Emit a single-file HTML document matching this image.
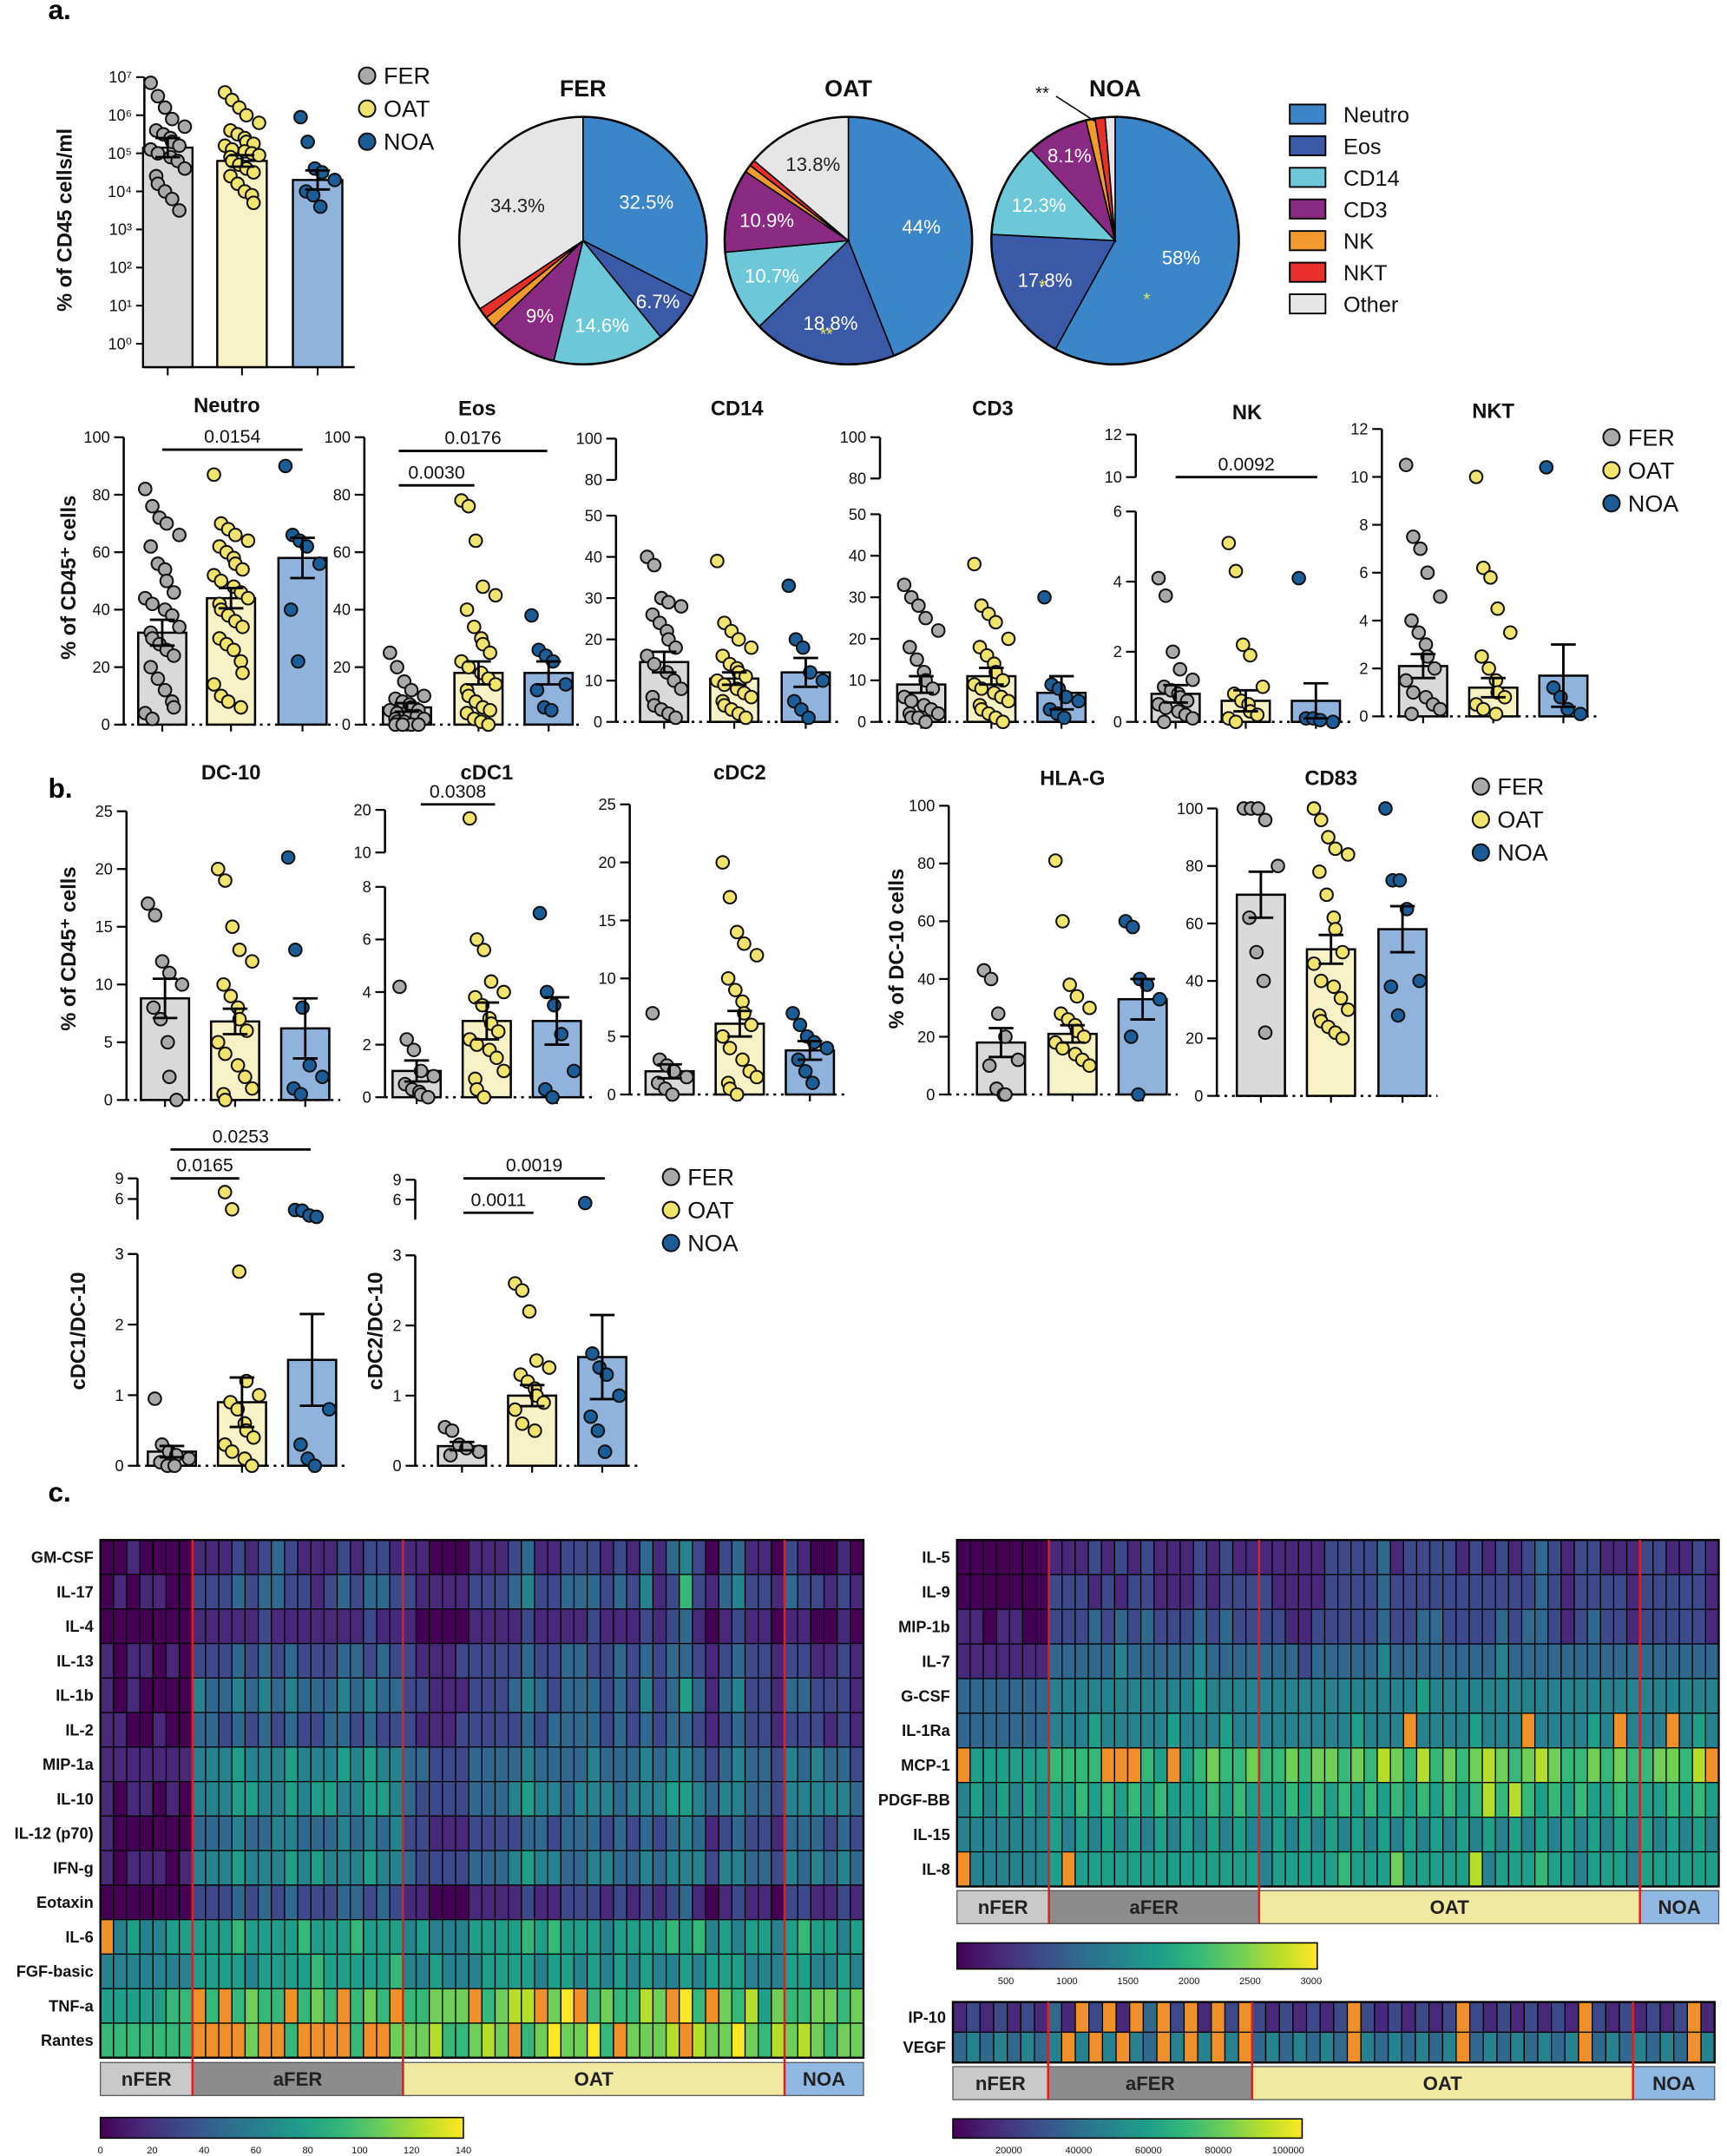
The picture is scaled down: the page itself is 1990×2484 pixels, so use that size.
<!DOCTYPE html>
<html><head><meta charset="utf-8"><style>
html,body{margin:0;padding:0;background:#fff}
svg{display:block;font-family:"Liberation Sans",Arial,sans-serif}
</style></head><body>
<svg id="fig" xmlns="http://www.w3.org/2000/svg" width="1990" height="2484" viewBox="0 0 1256 1568" preserveAspectRatio="none">
<text x="35" y="14" font-size="20" font-weight="bold">a.</text>
<text x="35" y="580" font-size="20" font-weight="bold">b.</text>
<text x="35" y="1092" font-size="20" font-weight="bold">c.</text>
</svg>
<script>
const NS='http://www.w3.org/2000/svg';
const svg=document.getElementById('fig');
function mk(tag,attrs,name,par){const el=document.createElementNS(NS,tag);for(const k in attrs)el.setAttribute(k,attrs[k]);


(par||svg).appendChild(el);return el;}
function tx(x,y,s,size,name,opt){opt=opt||{};const t=mk('text',Object.assign({x:x,y:y,'font-size':size,fill:'#111','text-anchor':'middle'},opt),name);t.textContent=s;return t;}

// ---------- data ----------
const groups=['FER','OAT','NOA'];
const barFill=['#d9d9d9','#f6f2c6','#8fb3dc'];
const dotFill=['#a9a9a9','#f0e46e','#1c5d98'];
// log10 CD45 cells/ml
const cd45Dots=[[6.85,6.5,6.2,5.9,5.7,5.6,5.5,5.4,5.3,5.2,5.1,5.0,4.9,4.8,4.6,4.4,4.2,4.0,3.8,3.5],
[6.6,6.4,6.2,6.0,5.8,5.6,5.5,5.4,5.3,5.25,5.2,5.1,5.05,5.0,4.95,4.9,4.8,4.7,4.6,4.5,4.4,4.2,4.0,3.9,3.7],
[5.95,5.3,4.6,4.5,4.3,4.0,3.9,3.6]];
const cd45Means=[5.15,4.8,4.3];
const cd45Errs=[0.25,0.15,0.25];
const pieLabels=['Neutro','Eos','CD14','CD3','NK','NKT','Other'];
const pieColors=['#3a86c8','#3a59a6','#6cc7d8','#8a2a82','#f29a2e','#e8302a','#e6e6e6'];
const pieFER=[32.5,6.7,14.6,9,1.5,1.4,34.3];
const pieOAT=[44,18.8,10.7,10.9,1.0,0.8,13.8];
const pieNOA=[58,17.8,12.3,8.1,1.2,1.3,1.3];

const neutroDots=[[82,76,72,70,66,62,56,54,50,46,44,42,40,38,34,32,30,28,26,24,20,16,12,8,6,4,2],[87,70,68,66,64,62,60,58,56,54,52,50,48,46,44,42,40,38,36,34,30,28,26,22,18,14,10,8,6],[90,66,64,62,56,40,22]];
const neutroMeans=[32,44,58];const neutroErrs=[4.5,3.5,7];
const eosDots=[[25,20,15,12,10,9,8,7,6,5,5,4,3,3,2,2,1,1,0,0,0,0],[78,76,64,48,45,40,34,30,28,25,22,20,18,16,14,12,10,8,6,5,4,2,1,0],[38,26,24,22,14,12,6,5]];
const eosMeans=[6,18,18];const eosErrs=[1.5,4,4];
const cd14Dots=[[40,38,30,29,28,26,24,22,20,18,16,14,12,10,8,6,4,3,2,1],[39,24,22,20,18,16,14,13,12,11,10,9,8,7,6,5,4,3,2,1],[33,20,18,12,10,5,3,1]];
const cd14Means=[14.5,10.5,12];const cd14Errs=[2.5,1.5,3.5];
const cd3Dots=[[33,30,28,25,22,18,15,12,10,8,6,5,4,3,2,2,1,1,0],[38,28,26,24,20,18,16,14,12,10,9,8,7,6,5,4,3,2,1,0],[30,9,8,6,5,3,2,1]];
const cd3Means=[9,11,7];const cd3Errs=[2,2,4];
const nkDots=[[4.1,3.6,2.0,1.5,1.2,1.0,0.9,0.8,0.7,0.6,0.5,0.4,0.3,0.2,0.1,0],[5.1,4.3,2.2,1.9,1.0,0.8,0.6,0.5,0.3,0.2,0.1,0],[4.1,0.1,0.1,0.05,0]];
const nkMeans=[0.8,0.6,0.6];const nkErrs=[0.25,0.3,0.5];
const nktDots=[[10.5,7.5,7,6,5,4,3.5,3,2.5,2,1.5,1,0.8,0.5,0.3,0.1],[10,6.2,5.8,4.5,3.5,2.5,2,1.5,1,0.8,0.5,0.3,0.1],[10.4,1.2,0.8,0.3,0.1]];
const nktMeans=[2.1,1.2,1.7];const nktErrs=[0.5,0.4,1.3];
const dc10Dots=[[17,16,12,11,10,8,7,5,2,0],[20,19,15,13,12,10,9,8,7,6,5,4,3,2,1,0.5,0],[21,13,8,3,2,1,0.5]];
const dc10Means=[8.8,6.8,6.2];const dc10Errs=[1.7,1.1,2.6];
const cdc1Dots=[[4.2,2.2,1.8,1.0,0.8,0.5,0.3,0.2,0.1,0],[18,6,5.6,4.4,4,3.8,3.5,3,2.8,2.5,2.2,2,1.8,1.5,1,0.7,0.3,0],[7,4,3.5,2.4,1,0.3,0]];
const cdc1Means=[1.0,2.9,2.9];const cdc1Errs=[0.4,0.7,0.9];
const cdc2Dots=[[7,3,2.5,2,1.5,1,0.5,0],[20,17,14,13,12,10,9,8,7,6,5,4,3,2,1.5,1,0.5,0],[7,6,5,4.5,4,3,2,1]];
const cdc2Means=[2.0,6.1,3.8];const cdc2Errs=[0.6,1.1,0.8];
const hlagDots=[[43,40,28,20,12,10,2,0,0],[81,60,38,34,30,28,26,24,22,20,18,16,14,12,10],[60,58,40,38,33,20,0]];
const hlagMeans=[18,21,33];const hlagErrs=[5,3,7];
const cd83Dots=[[100,100,100,96,80,62,50,40,22],[100,96,90,86,84,78,70,62,58,50,46,40,38,34,30,28,26,24,22,20],[100,75,75,65,40,38,28]];
const cd83Means=[70,51,58];const cd83Errs=[8,5,8];
const r1Dots=[[0.95,0.3,0.2,0.15,0.1,0.05,0,0],[7,4.5,2.75,1.2,1.0,0.9,0.8,0.6,0.5,0.4,0.3,0.2,0.1,0],[4.4,4.3,3.6,3.4,0.8,0.3,0.1,0]];
const r1Means=[0.2,0.9,1.5];const r1Errs=[0.08,0.35,0.65];
const r2Dots=[[0.55,0.5,0.3,0.25,0.2,0.15],[2.6,2.5,2.2,1.5,1.4,1.3,1.2,1.1,1.0,0.9,0.8,0.6,0.5],[5.5,1.6,1.4,1.3,1.0,0.7,0.5,0.2]];
const r2Means=[0.28,1.0,1.55];const r2Errs=[0.06,0.15,0.6];

// heatmaps: digit 0-9 viridis level, 'a' = out-of-range orange
const hmLeftNames=['GM-CSF','IL-17','IL-4','IL-13','IL-1b','IL-2','MIP-1a','IL-10','IL-12 (p70)','IFN-g','Eotaxin','IL-6','FGF-basic','TNF-a','Rantes'];
const hmLeftRows=[
'0010000'+'1112123211121221'+'11000111231122212131342023110'+'210010',
'0101100'+'2223233221232332'+'21111222342233323241262134221'+'322121',
'0000000'+'1111121111111211'+'10000111121111211121231012110'+'110010',
'1011010'+'2223232322233232'+'21112222232233223232332123221'+'221121',
'1010000'+'4334343433343433'+'22111222343233323242353134221'+'332221',
'1100100'+'3323232322332322'+'21112222232333323232332123221'+'222121',
'1111111'+'4445444544454544'+'33222333343333433343443234332'+'434332',
'1011010'+'4445544545544554'+'32222333454434443444554344332'+'444443',
'1000000'+'3334334433343434'+'22111222233233323232343123221'+'333232',
'1011101'+'4445444545444544'+'32222333454433443343444244332'+'434343',
'0000000'+'2223232322233232'+'11000111121122212121231012110'+'221121',
'a454455'+'5556555565556555'+'45444555565655545555656454554'+'565545',
'4444444'+'5555455556555556'+'44544455554554545454454555444'+'554454',
'5555566'+'a6a6766a676a676a'+'66777a6788a79a676687a96a76857'+'667767',
'6666666'+'aaaa7aa6aaaa6aa7'+'77866787a6797796a7778a8779768'+'787677'];
const hmRightNames=['IL-5','IL-9','MIP-1b','IL-7','G-CSF','IL-1Ra','MCP-1','PDGF-BB','IL-15','IL-8'];
const hmRightRows=[
'0000000'+'1112121211121211'+'11111222231222212121232122111'+'221121',
'0000000'+'2221212211121222'+'21111222232222222222232122221'+'222221',
'1101100'+'2223232322232322'+'22112222232233222232332123221'+'222221',
'1111111'+'3333343333343333'+'33323333343333333343333333333'+'333333',
'3333333'+'4444444444454444'+'44444444444454444444444444444'+'444444',
'3333333'+'4445444445444544'+'44444445444a44445444a444454a4'+'44a454',
'a555555'+'6666aaa65a567667'+'66767767687686767876787667676'+'67768a',
'4545454'+'5565656565556565'+'55656565656565656868656565565'+'556565',
'4444444'+'5454545454545454'+'45454545454545454545454545454'+'545454',
'a444444'+'5a55555555555555'+'45555565557555558455565545554'+'555555'];
const hmSmallNames=['IP-10','VEGF'];
const hmSmallRows=[
'1212121'+'31a2a1a3a2a1a2a'+'2121212a2121212a21212121a212'+'1212a1',
'3434343'+'4a4a4a43a4a4a4a'+'3434343a4343434a34343434a343'+'4343a4'];
const hmGroups=['nFER','aFER','OAT','NOA'];
const hmGroupCounts=[7,16,29,6];
const hmSmallGroupCounts=[7,15,28,6];
const cbLeftTicks=[0,20,40,60,80,100,120,140];
const cbRightTicks=[500,1000,1500,2000,2500,3000];
const cbSmallTicks=[20000,40000,60000,80000,100000];

// ---------- helpers ----------
const VIR=['#440154','#482878','#3e4989','#31688e','#26828e','#1f9e89','#35b779','#6ece58','#b5de2b','#fde725'];
function col(c){return c==='a'?'#f0902a':VIR[+c];}
function jit(i){return ((i%5)-2)*5.2+((i>>2)%2?2:-2);}

function segMap(segs){return function(v){for(const s of segs){const lo=s[0],hi=s[1];if(v>=lo[0]&&v<=hi[0])return lo[1]+(v-lo[0])/(hi[0]-lo[0])*(hi[1]-lo[1]);}
 const last=segs[segs.length-1][1];if(v>last[0])return last[1];
 for(let i=0;i<segs.length-1;i++){if(v>segs[i][1][0]&&v<segs[i+1][0][0])return segs[i][1][1];}return segs[0][0][1];};}

function panel(o){
 const m=segMap(o.segs);
 const g=mk('g',{},o.name);
 // axis segments
 o.segs.forEach((s,i)=>{mk('line',{x1:o.ax,x2:o.ax,y1:s[0][1],y2:s[1][1],stroke:'#000','stroke-width':1.6},o.name+'-y-axis',g);});
 o.ticks.forEach((t,i)=>{const y=m(t);mk('line',{x1:o.ax-7,x2:o.ax,y1:y,y2:y,stroke:'#000','stroke-width':1.4},o.name+'-y-tick',g);
  tx(o.ax-10,y+4,(o.tickLabels?o.tickLabels[i]:t),11.5,o.name+'-y-tick-label',{'text-anchor':'end'});});
 const y0=m(0);
 const bw=o.bw||35;
 const right=o.centers[2]+bw/2+8;
 mk('line',{x1:o.ax,x2:right,y1:y0,y2:y0,stroke:'#000','stroke-width':1.6,'stroke-dasharray':'2,3.5'},o.name+'-x-axis',g);
 o.centers.forEach((c,gi)=>{
  mk('line',{x1:c,x2:c,y1:y0,y2:y0+5,stroke:'#000','stroke-width':1.4},o.name+'-x-tick',g);
  const ym=m(o.means[gi]);
  mk('rect',{x:c-bw/2,y:ym,width:bw,height:y0-ym,fill:barFill[gi],stroke:'#000','stroke-width':1.6},o.name+'-bar-'+groups[gi].toLowerCase(),g);
  o.dots[gi].forEach((v,i)=>{mk('circle',{cx:c+jit(i),cy:m(v),r:4.6,fill:dotFill[gi],stroke:'#111','stroke-width':1.3},o.name+'-dot-'+groups[gi].toLowerCase(),g);});
  const yt=m(o.means[gi]+o.errs[gi]),yb=m(Math.max(0,o.means[gi]-o.errs[gi]));
  mk('line',{x1:c,x2:c,y1:yt,y2:yb,stroke:'#000','stroke-width':1.8},o.name+'-error-bar',g);
  mk('line',{x1:c-9,x2:c+9,y1:yt,y2:yt,stroke:'#000','stroke-width':1.8},o.name+'-error-cap',g);
  mk('line',{x1:c-9,x2:c+9,y1:yb,y2:yb,stroke:'#000','stroke-width':1.8},o.name+'-error-cap',g);
 });
 if(o.title)tx(o.titleX||o.centers[1],o.titleY,o.title,15,o.name+'-title',{'font-weight':'bold'});
 (o.sig||[]).forEach(s=>{mk('line',{x1:s[0],x2:s[1],y1:s[2],y2:s[2],stroke:'#000','stroke-width':1.8},o.name+'-significance-bar',g);
  tx((s[0]+s[1])/2,s[2]-5,s[3],13.5,o.name+'-p-value');});
}
function legend(x,y,name){groups.forEach((gname,i)=>{mk('circle',{cx:x,cy:y+i*24,r:6,fill:dotFill[i],stroke:'#111','stroke-width':1.3},name+'-marker');
 tx(x+12,y+i*24+6,gname,17,name+'-label',{'text-anchor':'start'});});}
function ytitle(x,y,s,name,size){const t=tx(x,y,s,size||15,name,{'font-weight':'bold',transform:'rotate(-90 '+x+' '+y+')'});return t;}

// ---------- top-left log chart ----------
(function(){
 const ax=105;const m=v=>250-v*27.7;
 mk('line',{x1:ax,x2:ax,y1:56,y2:267,stroke:'#000','stroke-width':1.6},'cd45-y-axis');
 const sup=['⁰','¹','²','³','⁴','⁵','⁶','⁷'];
 for(let e=0;e<=7;e++){mk('line',{x1:ax-6,x2:ax,y1:m(e),y2:m(e),stroke:'#000','stroke-width':1.3},'cd45-y-tick');
  tx(ax-9,m(e)+4,'10'+sup[e],11.5,'cd45-y-tick-label',{'text-anchor':'end'});}
 mk('line',{x1:ax,x2:258,y1:267,y2:267,stroke:'#000','stroke-width':1.6},'cd45-x-axis');
 const cs=[122,176,231];
 cs.forEach((c,gi)=>{mk('line',{x1:c,x2:c,y1:267,y2:273,stroke:'#000','stroke-width':1.3},'cd45-x-tick');
  const ym=m(cd45Means[gi]);
  mk('rect',{x:c-18,y:ym,width:36,height:267-ym,fill:barFill[gi],stroke:'#000','stroke-width':1.5},'cd45-bar-'+groups[gi].toLowerCase());
  cd45Dots[gi].forEach((v,i)=>{mk('circle',{cx:c+jit(i),cy:m(v),r:4.6,fill:dotFill[gi],stroke:'#111','stroke-width':1.3},'cd45-dot');});
  const yt=m(cd45Means[gi]+cd45Errs[gi]),yb=m(cd45Means[gi]-cd45Errs[gi]);
  mk('line',{x1:c,x2:c,y1:yt,y2:yb,stroke:'#000','stroke-width':1.8},'cd45-error-bar');
  mk('line',{x1:c-9,x2:c+9,y1:yt,y2:yt,stroke:'#000','stroke-width':1.8},'cd45-error-cap');
  mk('line',{x1:c-9,x2:c+9,y1:yb,y2:yb,stroke:'#000','stroke-width':1.8},'cd45-error-cap');});
 ytitle(52,160,'% of CD45 cells/ml','cd45-y-title');
 legend(267,55,'legend-a-top');
})();

// ---------- pies ----------
function pie(cx,cy,r,vals,title,name,labelOpts){
 tx(cx,70,title,17,name+'-title',{'font-weight':'bold'});
 let a=-Math.PI/2;const tot=vals.reduce((s,v)=>s+v,0);
 vals.forEach((v,i)=>{const da=v/tot*2*Math.PI;const a2=a+da;
  const x1=cx+r*Math.cos(a),y1=cy+r*Math.sin(a),x2=cx+r*Math.cos(a2),y2=cy+r*Math.sin(a2);
  mk('path',{d:`M${cx},${cy}L${x1},${y1}A${r},${r} 0 ${da>Math.PI?1:0} 1 ${x2},${y2}Z`,fill:pieColors[i],stroke:'#000','stroke-width':1},name+'-slice-'+pieLabels[i].toLowerCase());
  const lo=labelOpts[i];
  if(lo){const am=(a+a2)/2;const rr=r*lo;tx(cx+rr*Math.cos(am),cy+rr*Math.sin(am)+5,(v%1?v.toFixed(1):v)+'%',14,name+'-label',{fill:i===6?'#222':'#fff'});}
  a=a2;});
 mk('circle',{cx:cx,cy:cy,r:r,fill:'none',stroke:'#000','stroke-width':1.6},name+'-outline');
}
pie(424,175,90,pieFER,'FER','pie-fer',[0.6,0.78,0.7,0.7,0,0,0.6]);
pie(617,175,90,pieOAT,'OAT','pie-oat',[0.6,0.68,0.68,0.68,0,0,0.68]);
pie(811,175,90,pieNOA,'NOA','pie-noa',[0.55,0.65,0.68,0.78,0,0,0]);
tx(758,72,'**',13,'pie-noa-nk-annotation');
mk('line',{x1:768,x2:796,y1:70,y2:88,stroke:'#000','stroke-width':1},'pie-noa-annotation-line');
tx(834,222,'*',13,'pie-noa-neutro-star',{fill:'#ece35a'});
tx(758,212,'*',13,'pie-noa-eos-star',{fill:'#ece35a'});
tx(601,247,'**',12,'pie-oat-eos-star',{fill:'#ece35a'});
pieLabels.forEach((l,i)=>{mk('rect',{x:938,y:76+i*23,width:26,height:14,fill:pieColors[i],stroke:'#000','stroke-width':1.2},'pie-legend-swatch');
 tx(977,89+i*23,l,16,'pie-legend-label',{'text-anchor':'start'});});

// ---------- row 2 panels ----------
ytitle(55,420,'% of CD45⁺ cells','row2-y-title');
panel({name:'neutro',ax:90,segs:[[[0,527],[100,318]]],ticks:[0,20,40,60,80,100],centers:[118,168,220],means:neutroMeans,errs:neutroErrs,dots:neutroDots,title:'Neutro',titleX:165,titleY:300,sig:[[118,220,327,'0.0154']]});
panel({name:'eos',ax:265,segs:[[[0,527],[100,318]]],ticks:[0,20,40,60,80,100],centers:[296,348,399],means:eosMeans,errs:eosErrs,dots:eosDots,title:'Eos',titleX:347,titleY:302,sig:[[290,398,328,'0.0176'],[290,345,353,'0.0030']]});
panel({name:'cd14',ax:448,segs:[[[0,525],[50,375]],[[80,349],[100,319]]],ticks:[0,10,20,30,40,50,80,100],centers:[483,534,586],means:cd14Means,errs:cd14Errs,dots:cd14Dots,title:'CD14',titleX:536,titleY:302});
panel({name:'cd3',ax:640,segs:[[[0,525],[50,374]],[[80,348],[100,318]]],ticks:[0,10,20,30,40,50,80,100],centers:[670,721,772],means:cd3Means,errs:cd3Errs,dots:cd3Dots,title:'CD3',titleX:722,titleY:302});
panel({name:'nk',ax:826,segs:[[[0,525],[6,372]],[[10,347],[12,316]]],ticks:[0,2,4,6,10,12],centers:[855,906,957],means:nkMeans,errs:nkErrs,dots:nkDots,title:'NK',titleX:907,titleY:305,sig:[[855,958,347,'0.0092']]});
panel({name:'nkt',ax:1005,segs:[[[0,521],[12,312]]],ticks:[0,2,4,6,8,10,12],centers:[1035,1086,1137],means:nktMeans,errs:nktErrs,dots:nktDots,title:'NKT',titleX:1086,titleY:304});
legend(1172,318,'legend-a-row2');

// ---------- b ----------
ytitle(55,690,'% of CD45⁺ cells','b-y-title');
panel({name:'dc10',ax:92,segs:[[[0,800],[25,590]]],ticks:[0,5,10,15,20,25],centers:[120,171,222],means:dc10Means,errs:dc10Errs,dots:dc10Dots,title:'DC-10',titleX:168,titleY:567});
panel({name:'cdc1',ax:280,segs:[[[0,798],[8,645]],[[10,620],[20,589]]],ticks:[0,2,4,6,8,10,20],centers:[303,354,405],means:cdc1Means,errs:cdc1Errs,dots:cdc1Dots,title:'cDC1',titleX:354,titleY:567,sig:[[306,360,585,'0.0308']]});
panel({name:'cdc2',ax:458,segs:[[[0,796],[25,585]]],ticks:[0,5,10,15,20,25],centers:[487,538,589],means:cdc2Means,errs:cdc2Errs,dots:cdc2Dots,title:'cDC2',titleX:538,titleY:567});
ytitle(657,690,'% of DC-10 cells','hlag-y-title');
panel({name:'hlag',ax:690,segs:[[[0,796],[100,586]]],ticks:[0,20,40,60,80,100],centers:[728,780,831],means:hlagMeans,errs:hlagErrs,dots:hlagDots,title:'HLA-G',titleX:780,titleY:571});
panel({name:'cd83',ax:885,segs:[[[0,797],[100,588]]],ticks:[0,20,40,60,80,100],centers:[917,968,1020],means:cd83Means,errs:cd83Errs,dots:cd83Dots,title:'CD83',titleX:968,titleY:571});
legend(1077,572,'legend-b-top');

ytitle(62,968,'cDC1/DC-10','ratio1-y-title');
panel({name:'ratio-cdc1',ax:100,segs:[[[0,1066],[3,912]],[[3,887],[9,857]]],ticks:[0,1,2,3,3,6,9],centers:[125,176,227],means:r1Means,errs:r1Errs,dots:r1Dots,sig:[[124,226,836,'0.0253'],[124,174,857,'0.0165']]});
ytitle(278,968,'cDC2/DC-10','ratio2-y-title');
panel({name:'ratio-cdc2',ax:302,segs:[[[0,1066],[3,913]],[[3,887],[9,858]]],ticks:[0,1,2,3,3,6,9],centers:[336,387,438],means:r2Means,errs:r2Errs,dots:r2Dots,sig:[[337,440,857,'0.0019'],[337,388,882,'0.0011']]});
legend(488,856,'legend-b-bottom');

// ---------- heatmaps ----------
const grpFill=['#c9c9c9','#8c8c8c','#efe9a2','#8fb9e2'];
function heat(x0,x1,y0,rowH,names,rows,counts,labX,barY,name){
 const n=counts.reduce((a,b)=>a+b,0);const cw=(x1-x0)/n;
 rows.forEach((r,ri)=>{const w=(x1-x0)/r.length;
  for(let ci=0;ci<r.length;ci++)mk('rect',{x:x0+ci*w,y:y0+ri*rowH,width:w,height:rowH,fill:col(r[ci]),stroke:'#000','stroke-width':0.8},name+'-cell');
  tx(labX,y0+ri*rowH+rowH/2+4,names[ri],11.5,name+'-row-label',{'text-anchor':'end','font-weight':'bold'});});
 mk('rect',{x:x0,y:y0,width:x1-x0,height:rowH*rows.length,fill:'none',stroke:'#000','stroke-width':1.5},name+'-frame');
 let cx=x0;counts.forEach((c,i)=>{const w=c*cw;
  mk('rect',{x:cx,y:barY,width:w,height:24,fill:grpFill[i],stroke:'#555','stroke-width':0.8},name+'-group-bar');
  tx(cx+w/2,barY+17,hmGroups[i],14,name+'-group-label',{'font-weight':'bold',fill:'#222'});
  if(i>0)mk('line',{x1:cx,x2:cx,y1:y0,y2:barY+24,stroke:'#e02020','stroke-width':1.6},name+'-group-divider');
  cx+=w;});
}
heat(73,628,1120,25.1,hmLeftNames,hmLeftRows,hmGroupCounts,68,1500,'heatmap-left');
heat(696,1250,1120,25.2,hmRightNames,hmRightRows,hmGroupCounts,691,1375,'heatmap-right');
heat(693,1247,1456,22,hmSmallNames,hmSmallRows,hmSmallGroupCounts,688,1503,'heatmap-small');

function colorbar(x,y,w,h,ticks,vmin,vmax,name,fs){
 const id=name+'-grad';const defs=mk('defs',{},name+'-defs');const lg=mk('linearGradient',{id:id},name+'-gradient',defs);
 VIR.forEach((c,i)=>mk('stop',{offset:(i/9*100)+'%','stop-color':c},name+'-stop',lg));
 mk('rect',{x:x,y:y,width:w,height:h,fill:'url(#'+id+')',stroke:'#000','stroke-width':1},name);
 ticks.forEach(t=>{const xx=x+(t-vmin)/(vmax-vmin)*w;tx(xx,y+h+11,t,fs||7,name+'-tick-label');});
}
colorbar(73,1540,264,15,cbLeftTicks,0,140,'colorbar-left');
colorbar(696,1413,262,19,cbRightTicks,100,3050,'colorbar-right');
colorbar(693,1541,254,14,cbSmallTicks,4000,104000,'colorbar-small');
</script>
</body></html>
